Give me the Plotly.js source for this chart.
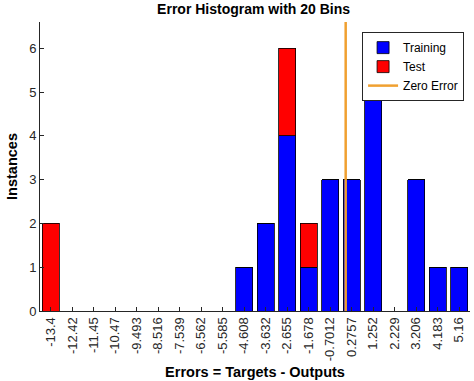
<!DOCTYPE html>
<html>
<head>
<meta charset="utf-8">
<script src="https://cdn.plot.ly/plotly-3.0.1.min.js"></script>
<style>html,body{margin:0;padding:0;background:#fff;}#chart{width:474px;height:381px;}</style>
</head>
<body>
<div id="chart"></div>
<script>
var binLabels = ['-13.4','-12.42','-11.45','-10.47','-9.493','-8.516','-7.539','-6.562','-5.585','-4.608','-3.632','-2.655','-1.678','-0.7012','0.2757','1.252','2.229','3.206','4.183','5.16'];
var binCenters = [-13.4,-12.42,-11.45,-10.47,-9.493,-8.516,-7.539,-6.562,-5.585,-4.608,-3.632,-2.655,-1.678,-0.7012,0.2757,1.252,2.229,3.206,4.183,5.16];
var training = [0,0,0,0,0,0,0,0,0,1,2,4,1,3,3,6,0,3,1,1];
var test =     [2,0,0,0,0,0,0,0,0,0,0,2,1,0,0,0,0,0,0,0];
var zeroX = [0,0];
var zeroY = [0,6.6];

var binW = (binCenters[binCenters.length-1]-binCenters[0])/(binCenters.length-1);
var font = 'Liberation Sans, Arial, sans-serif';
var traces = [
  {type:'bar', name:'Training', x:binCenters, y:training, width:binW*0.8,
   marker:{color:'#0000ff', line:{color:'#000', width:0.8}}},
  {type:'bar', name:'Test', x:binCenters, y:test, width:binW*0.8,
   marker:{color:'#ff0000', line:{color:'#000', width:0.8}}},
  {type:'scatter', mode:'lines', name:'Zero Error', x:zeroX, y:zeroY,
   line:{color:'#f0a030', width:2.5}}
];
var layout = {
  width:474, height:381,
  margin:{l:40, r:4, t:22, b:70},
  barmode:'stack', bargap:0,
  paper_bgcolor:'#fff', plot_bgcolor:'#fff',
  font:{family:font, size:12, color:'#262626'},
  title:{text:'<b>Error Histogram with 20 Bins</b>', font:{size:14, color:'#000'}, x:0.535, xanchor:'center', y:0.99, yanchor:'top'},
  xaxis:{range:[binCenters[0]-binW/2, binCenters[binCenters.length-1]+binW/2],
    tickvals:binCenters, ticktext:binLabels, tickangle:-90,
    ticks:'inside', ticklen:4, tickcolor:'#262626', showline:true, linecolor:'#262626', linewidth:1,
    showgrid:false, zeroline:false, tickfont:{size:13, color:'#262626'},
    title:{text:'<b>Errors = Targets - Outputs</b>', font:{size:14.5, color:'#000'}, standoff:6}},
  yaxis:{range:[0,6.6], tickvals:[0,1,2,3,4,5,6], ticks:'inside', ticklen:4, tickcolor:'#262626',
    showline:true, linecolor:'#262626', linewidth:1, showgrid:false, zeroline:false,
    tickfont:{size:13, color:'#262626'},
    title:{text:'<b>Instances</b>', font:{size:14.5, color:'#000'}, standoff:8}},
  showlegend:true,
  legend:{x:0.749, y:0.965, xanchor:'left', yanchor:'top', bgcolor:'#fff', bordercolor:'#262626', borderwidth:1,
    font:{size:12, color:'#000'}, traceorder:'normal', tracegroupgap:0, itemwidth:30}
};
Plotly.newPlot('chart', traces, layout, {displayModeBar:false, staticPlot:true});
</script>
</body>
</html>
